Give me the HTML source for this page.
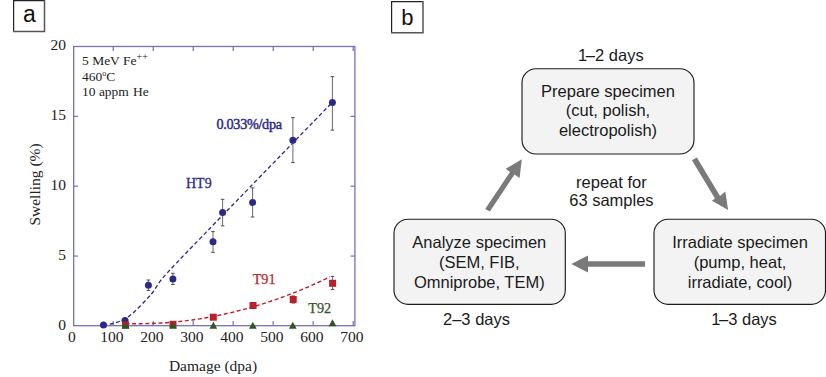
<!DOCTYPE html>
<html><head><meta charset="utf-8"><style>
html,body{margin:0;padding:0;background:#fff;width:826px;height:377px;overflow:hidden}
svg{display:block}
</style></head><body>
<svg width="826" height="377" viewBox="0 0 826 377">
<rect x="73.7" y="46.5" width="281.2" height="279.2" fill="none" stroke="#7870b8" stroke-width="1.3"/>
<line x1="113.20" y1="325.7" x2="113.20" y2="321" stroke="#7870b8" stroke-width="1.2"/>
<line x1="113.20" y1="46.5" x2="113.20" y2="51" stroke="#7870b8" stroke-width="1.2"/>
<line x1="153.20" y1="325.7" x2="153.20" y2="321" stroke="#7870b8" stroke-width="1.2"/>
<line x1="153.20" y1="46.5" x2="153.20" y2="51" stroke="#7870b8" stroke-width="1.2"/>
<line x1="193.20" y1="325.7" x2="193.20" y2="321" stroke="#7870b8" stroke-width="1.2"/>
<line x1="193.20" y1="46.5" x2="193.20" y2="51" stroke="#7870b8" stroke-width="1.2"/>
<line x1="233.20" y1="325.7" x2="233.20" y2="321" stroke="#7870b8" stroke-width="1.2"/>
<line x1="233.20" y1="46.5" x2="233.20" y2="51" stroke="#7870b8" stroke-width="1.2"/>
<line x1="273.20" y1="325.7" x2="273.20" y2="321" stroke="#7870b8" stroke-width="1.2"/>
<line x1="273.20" y1="46.5" x2="273.20" y2="51" stroke="#7870b8" stroke-width="1.2"/>
<line x1="313.20" y1="325.7" x2="313.20" y2="321" stroke="#7870b8" stroke-width="1.2"/>
<line x1="313.20" y1="46.5" x2="313.20" y2="51" stroke="#7870b8" stroke-width="1.2"/>
<line x1="353.20" y1="325.7" x2="353.20" y2="321" stroke="#7870b8" stroke-width="1.2"/>
<line x1="353.20" y1="46.5" x2="353.20" y2="51" stroke="#7870b8" stroke-width="1.2"/>
<line x1="73.7" y1="256.07" x2="78" y2="256.07" stroke="#7870b8" stroke-width="1.2"/>
<line x1="354.9" y1="256.07" x2="350.5" y2="256.07" stroke="#7870b8" stroke-width="1.2"/>
<line x1="73.7" y1="186.20" x2="78" y2="186.20" stroke="#7870b8" stroke-width="1.2"/>
<line x1="354.9" y1="186.20" x2="350.5" y2="186.20" stroke="#7870b8" stroke-width="1.2"/>
<line x1="73.7" y1="116.32" x2="78" y2="116.32" stroke="#7870b8" stroke-width="1.2"/>
<line x1="354.9" y1="116.32" x2="350.5" y2="116.32" stroke="#7870b8" stroke-width="1.2"/>
<text x="66" y="329.85" text-anchor="end" font-size="15.5" font-family="Liberation Serif" fill="#222">0</text>
<text x="66" y="259.97" text-anchor="end" font-size="15.5" font-family="Liberation Serif" fill="#222">5</text>
<text x="66" y="190.10" text-anchor="end" font-size="15.5" font-family="Liberation Serif" fill="#222">10</text>
<text x="66" y="120.22" text-anchor="end" font-size="15.5" font-family="Liberation Serif" fill="#222">15</text>
<text x="66" y="50.35" text-anchor="end" font-size="15.5" font-family="Liberation Serif" fill="#222">20</text>
<text x="71.80" y="342" text-anchor="middle" font-size="15.5" font-family="Liberation Serif" fill="#222">0</text>
<text x="111.80" y="342" text-anchor="middle" font-size="15.5" font-family="Liberation Serif" fill="#222">100</text>
<text x="151.80" y="342" text-anchor="middle" font-size="15.5" font-family="Liberation Serif" fill="#222">200</text>
<text x="191.80" y="342" text-anchor="middle" font-size="15.5" font-family="Liberation Serif" fill="#222">300</text>
<text x="231.80" y="342" text-anchor="middle" font-size="15.5" font-family="Liberation Serif" fill="#222">400</text>
<text x="271.80" y="342" text-anchor="middle" font-size="15.5" font-family="Liberation Serif" fill="#222">500</text>
<text x="311.80" y="342" text-anchor="middle" font-size="15.5" font-family="Liberation Serif" fill="#222">600</text>
<text x="351.80" y="342" text-anchor="middle" font-size="15.5" font-family="Liberation Serif" fill="#222">700</text>
<text x="213" y="370.6" text-anchor="middle" font-size="15.5" font-family="Liberation Serif" fill="#222">Damage (dpa)</text>
<text transform="translate(39.6,184.5) rotate(-90)" text-anchor="middle" font-size="15.5" font-family="Liberation Serif" fill="#222">Swelling (%)</text>
<text x="82" y="64.7" font-size="13.5" font-family="Liberation Serif" fill="#222">5 MeV Fe<tspan dy="-4.3" font-size="10">++</tspan></text>
<text x="82" y="80.6" font-size="13.5" font-family="Liberation Serif" fill="#222">460<tspan dy="-4.5" font-size="8">o</tspan><tspan dy="4.5">C</tspan></text>
<text x="82" y="95.7" font-size="13.5" font-family="Liberation Serif" fill="#222">10 appm<tspan dx="0.8"> He</tspan></text>
<text x="216.5" y="129" font-size="14.2" font-family="Liberation Serif" letter-spacing="-0.3" fill="#2c2a88" stroke="#2c2a88" stroke-width="0.45">0.033%/dpa</text>
<text x="186" y="187.6" font-size="14" font-family="Liberation Serif" fill="#2c2a88" stroke="#2c2a88" stroke-width="0.3">HT9</text>
<text x="252.7" y="284.1" font-size="14.2" font-family="Liberation Serif" fill="#bb1f2b" stroke="#bb1f2b" stroke-width="0.25">T91</text>
<text x="308.3" y="312.9" font-size="14.2" font-family="Liberation Serif" fill="#30561f" stroke="#30561f" stroke-width="0.25">T92</text>
<path d="M103.20,325.20 C104.33,325.02 107.62,324.62 110.00,324.10 C112.38,323.58 114.92,323.00 117.50,322.10 C120.08,321.20 123.08,320.08 125.50,318.70 C127.92,317.32 129.58,315.88 132.00,313.80 C134.42,311.72 137.33,308.87 140.00,306.20 C142.67,303.53 145.83,300.17 148.00,297.80 C150.17,295.43 150.75,295.05 153.00,292.00 C155.25,288.95 157.57,284.35 161.50,279.50 C165.43,274.65 170.18,269.72 176.60,262.90 C183.02,256.08 189.43,249.52 200.00,238.60 C210.57,227.68 217.93,220.13 240.00,197.40 C262.07,174.67 317.00,118.07 332.40,102.20" fill="none" stroke="#2c2a88" stroke-width="1.3" stroke-dasharray="4,2.6"/>
<polyline points="125.5,323.6 130.6,323.7 135.7,323.7 140.8,323.7 145.9,323.6 151.1,323.5 156.2,323.3 161.3,323.0 166.4,322.7 171.5,322.3 176.6,321.8 181.7,321.2 186.8,320.6 192.0,320.0 197.1,319.2 202.2,318.4 207.3,317.5 212.4,316.6 217.5,315.6 222.6,314.5 227.8,313.4 232.9,312.2 238.0,310.9 243.1,309.6 248.2,308.2 253.3,306.7 258.4,305.2 263.5,303.6 268.6,301.9 273.8,300.2 278.9,298.4 284.0,296.6 289.1,294.6 294.2,292.6 299.3,290.6 304.4,288.5 309.6,286.3 314.7,284.0 319.8,281.7 324.9,279.3 330.0,276.8" fill="none" stroke="#bb1f2b" stroke-width="1.4" stroke-dasharray="4,2.6"/>
<line x1="148.4" y1="280" x2="148.4" y2="290.5" stroke="#6a6a6a" stroke-width="1"/>
<line x1="146.6" y1="280" x2="150.20000000000002" y2="280" stroke="#444" stroke-width="0.95"/>
<line x1="146.6" y1="290.5" x2="150.20000000000002" y2="290.5" stroke="#444" stroke-width="0.95"/>
<line x1="172.9" y1="273.3" x2="172.9" y2="284.5" stroke="#6a6a6a" stroke-width="1"/>
<line x1="171.1" y1="273.3" x2="174.70000000000002" y2="273.3" stroke="#444" stroke-width="0.95"/>
<line x1="171.1" y1="284.5" x2="174.70000000000002" y2="284.5" stroke="#444" stroke-width="0.95"/>
<line x1="213" y1="231.6" x2="213" y2="252.3" stroke="#6a6a6a" stroke-width="1"/>
<line x1="211.2" y1="231.6" x2="214.8" y2="231.6" stroke="#444" stroke-width="0.95"/>
<line x1="211.2" y1="252.3" x2="214.8" y2="252.3" stroke="#444" stroke-width="0.95"/>
<line x1="222.6" y1="199.3" x2="222.6" y2="225.8" stroke="#6a6a6a" stroke-width="1"/>
<line x1="220.79999999999998" y1="199.3" x2="224.4" y2="199.3" stroke="#444" stroke-width="0.95"/>
<line x1="220.79999999999998" y1="225.8" x2="224.4" y2="225.8" stroke="#444" stroke-width="0.95"/>
<line x1="252.6" y1="187.9" x2="252.6" y2="217" stroke="#6a6a6a" stroke-width="1"/>
<line x1="250.79999999999998" y1="187.9" x2="254.4" y2="187.9" stroke="#444" stroke-width="0.95"/>
<line x1="250.79999999999998" y1="217" x2="254.4" y2="217" stroke="#444" stroke-width="0.95"/>
<line x1="292.9" y1="117.6" x2="292.9" y2="162.6" stroke="#6a6a6a" stroke-width="1"/>
<line x1="291.09999999999997" y1="117.6" x2="294.7" y2="117.6" stroke="#444" stroke-width="0.95"/>
<line x1="291.09999999999997" y1="162.6" x2="294.7" y2="162.6" stroke="#444" stroke-width="0.95"/>
<line x1="332.4" y1="76.6" x2="332.4" y2="130.1" stroke="#6a6a6a" stroke-width="1"/>
<line x1="330.59999999999997" y1="76.6" x2="334.2" y2="76.6" stroke="#444" stroke-width="0.95"/>
<line x1="330.59999999999997" y1="130.1" x2="334.2" y2="130.1" stroke="#444" stroke-width="0.95"/>
<line x1="293.2" y1="296" x2="293.2" y2="303" stroke="#6a6a6a" stroke-width="1"/>
<line x1="291.4" y1="296" x2="295.0" y2="296" stroke="#444" stroke-width="0.95"/>
<line x1="291.4" y1="303" x2="295.0" y2="303" stroke="#444" stroke-width="0.95"/>
<line x1="332.6" y1="276.4" x2="332.6" y2="289.6" stroke="#6a6a6a" stroke-width="1"/>
<line x1="330.8" y1="276.4" x2="334.40000000000003" y2="276.4" stroke="#444" stroke-width="0.95"/>
<line x1="330.8" y1="289.6" x2="334.40000000000003" y2="289.6" stroke="#444" stroke-width="0.95"/>
<circle cx="103.5" cy="325" r="3.5" fill="#2c2a88"/>
<circle cx="125" cy="320.5" r="3.5" fill="#2c2a88"/>
<circle cx="148.4" cy="285.2" r="3.5" fill="#2c2a88"/>
<circle cx="172.9" cy="278.9" r="3.5" fill="#2c2a88"/>
<circle cx="213" cy="241.7" r="3.5" fill="#2c2a88"/>
<circle cx="222.6" cy="212.5" r="3.5" fill="#2c2a88"/>
<circle cx="252.6" cy="202.4" r="3.5" fill="#2c2a88"/>
<circle cx="292.9" cy="140.3" r="3.5" fill="#2c2a88"/>
<circle cx="332.4" cy="102.5" r="3.5" fill="#2c2a88"/>
<rect x="122.0" y="321.5" width="7" height="7" fill="#bb1f2b"/>
<rect x="169.5" y="320.8" width="7" height="7" fill="#bb1f2b"/>
<rect x="209.8" y="313.7" width="7" height="7" fill="#bb1f2b"/>
<rect x="249.5" y="302.0" width="7" height="7" fill="#bb1f2b"/>
<rect x="289.7" y="296.0" width="7" height="7" fill="#bb1f2b"/>
<rect x="329.1" y="279.8" width="7" height="7" fill="#bb1f2b"/>
<polygon points="121.6,328.7 129.4,328.7 125.5,321.7" fill="#30561f"/>
<polygon points="169.1,328.7 176.9,328.7 173,321.7" fill="#30561f"/>
<polygon points="209.4,328.7 217.20000000000002,328.7 213.3,321.7" fill="#30561f"/>
<polygon points="248.9,328.7 256.7,328.7 252.8,321.7" fill="#30561f"/>
<polygon points="288.90000000000003,328.7 296.7,328.7 292.8,321.7" fill="#30561f"/>
<polygon points="328.6,326.2 336.4,326.2 332.5,319.2" fill="#30561f"/>
<path d="M13.6,31.4 V0.6 H44.5" fill="none" stroke="#222" stroke-width="1.2"/>
<path d="M13,31.4 H44.5 V0" fill="none" stroke="#555" stroke-width="1.5"/>
<text x="29.3" y="22.3" text-anchor="middle" font-size="23" font-family="Liberation Sans" fill="#111">a</text>
<path d="M391.6,32.8 V1.6 H423" fill="none" stroke="#222" stroke-width="1.2"/>
<path d="M391,32.8 H423 V1" fill="none" stroke="#555" stroke-width="1.5"/>
<text x="407.3" y="25" text-anchor="middle" font-size="22" font-family="Liberation Sans" fill="#111">b</text>
<rect x="522" y="68.7" width="172" height="85.3" rx="14" ry="14" fill="#f3f3f3" stroke="#1c1c1c" stroke-width="1.15"/>
<rect x="394" y="219.2" width="171.29999999999995" height="85.10000000000002" rx="14" ry="14" fill="#f3f3f3" stroke="#1c1c1c" stroke-width="1.15"/>
<rect x="654" y="219.2" width="171.5" height="85.10000000000002" rx="14" ry="14" fill="#f3f3f3" stroke="#1c1c1c" stroke-width="1.15"/>
<text x="610.8" y="60.7" font-family="Liberation Sans" fill="#1a1a1a" font-size="16.5" text-anchor="middle">1<tspan dx="-1.3">–</tspan>2 days</text>
<text x="608" y="96.7" font-family="Liberation Sans" fill="#1a1a1a" font-size="16.5" text-anchor="middle">Prepare specimen</text>
<text x="608" y="116.2" font-family="Liberation Sans" fill="#1a1a1a" font-size="16.5" text-anchor="middle">(cut, polish,</text>
<text x="608" y="135.7" font-family="Liberation Sans" fill="#1a1a1a" font-size="16.5" text-anchor="middle">electropolish)</text>
<text x="479.3" y="248.3" font-family="Liberation Sans" fill="#1a1a1a" font-size="16.5" text-anchor="middle">Analyze specimen</text>
<text x="479.3" y="268" font-family="Liberation Sans" fill="#1a1a1a" font-size="16.5" text-anchor="middle">(SEM, FIB,</text>
<text x="479.3" y="287.7" font-family="Liberation Sans" fill="#1a1a1a" font-size="16.5" text-anchor="middle">Omniprobe, TEM)</text>
<text x="476.5" y="325.1" font-family="Liberation Sans" fill="#1a1a1a" font-size="16.5" text-anchor="middle">2–3 days</text>
<text x="740" y="248.3" font-family="Liberation Sans" fill="#1a1a1a" font-size="16.5" text-anchor="middle">Irradiate specimen</text>
<text x="740" y="268" font-family="Liberation Sans" fill="#1a1a1a" font-size="16.5" text-anchor="middle">(pump, heat,</text>
<text x="740" y="287.7" font-family="Liberation Sans" fill="#1a1a1a" font-size="16.5" text-anchor="middle">irradiate, cool)</text>
<text x="744" y="325.1" font-family="Liberation Sans" fill="#1a1a1a" font-size="16.5" text-anchor="middle">1<tspan dx="-1.3">–</tspan>3 days</text>
<text x="611.4" y="187.5" font-family="Liberation Sans" fill="#1a1a1a" font-size="16.5" text-anchor="middle">repeat for</text>
<text x="611.4" y="206" font-family="Liberation Sans" fill="#1a1a1a" font-size="16.5" text-anchor="middle">63 samples</text>
<polygon points="571.3,264.1 588,255.6 588,261.2 645,261.2 645,266.8 588,266.8 588,272.5" fill="#7a7a7a"/>
<polygon points="728.1,210 711.9,200.7 715,198.6 691.9,160.2 696.9,157.6 720,196 725.3,191.4" fill="#7a7a7a"/>
<polygon points="521.8,159.3 519.6,178 514.5,174.5 489.9,211.5 485.2,209.1 510,172 505.7,168.8" fill="#7a7a7a"/>
</svg>
</body></html>
